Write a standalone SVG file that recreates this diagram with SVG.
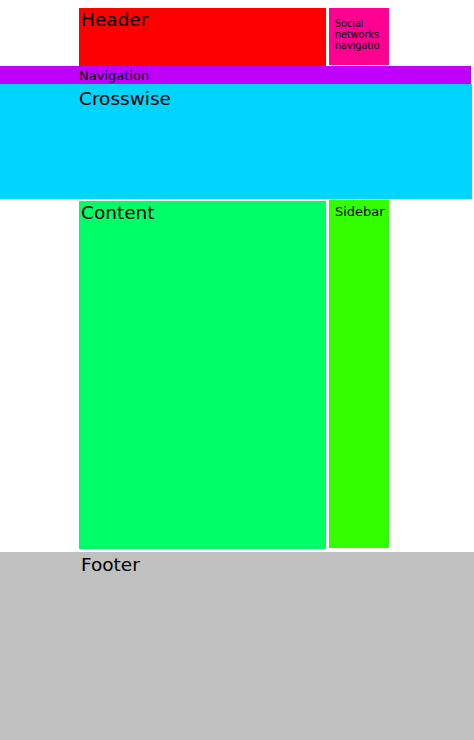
<svg xmlns="http://www.w3.org/2000/svg" width="474" height="740" viewBox="0 0 474 740">
<style>
text{font-family:"DejaVu Sans",sans-serif;fill:#000}
.big{font-size:18.5px}
.mid{font-size:13px}
.sm{font-size:9.6px}
</style>
<rect width="474" height="740" fill="#fff"/>
<g id="header"><rect x="79" y="8" width="247" height="58" fill="#ff0000"/><text class="big" x="81" y="26">Header</text></g>
<g id="social"><rect x="329" y="8" width="60" height="57" fill="#ff0090"/><text class="sm" x="335" y="27">Social</text><text class="sm" x="335" y="38">networks</text><text class="sm" x="335" y="49">navigatio</text></g>
<g id="navigation"><rect x="0" y="66" width="471" height="18" fill="#c000ff"/><text class="mid" x="79" y="80">Navigation</text></g>
<g id="crosswise"><rect x="0" y="84" width="472" height="115" fill="#00d4ff"/><text class="big" x="79" y="105">Crosswise</text></g>
<g id="content"><rect x="79" y="201" width="247" height="348" fill="#00ff66"/><text class="big" x="81" y="219">Content</text></g>
<g id="sidebar"><rect x="329" y="200" width="60" height="348" fill="#33ff00"/><text class="mid" x="335" y="216">Sidebar</text></g>
<g id="footer"><rect x="0" y="552" width="474" height="188" fill="#c0c0c0"/><text class="big" x="81" y="571">Footer</text></g>
<g id="connectors"/>
</svg>
